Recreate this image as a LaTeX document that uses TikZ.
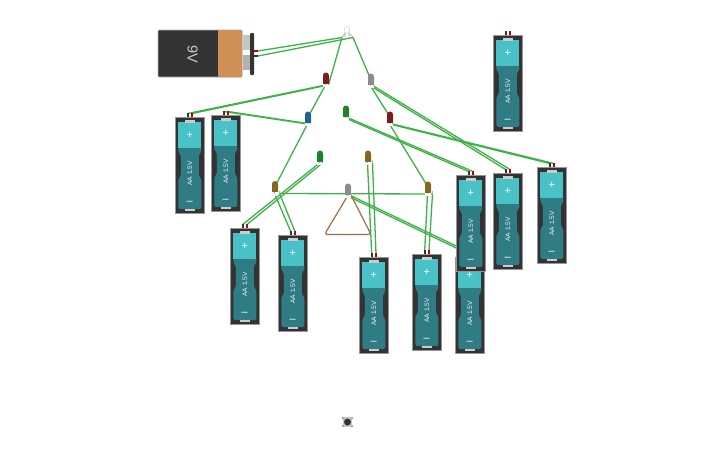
\documentclass[tikz,border=0pt]{standalone}
\usepackage{fontspec}
\setmainfont{Liberation Sans}
\usepackage{xcolor}
\definecolor{framedark}{RGB}{51, 51, 51}
\definecolor{frameedge}{RGB}{150, 150, 150}
\definecolor{celllight}{RGB}{72, 193, 199}
\definecolor{celldark}{RGB}{47, 124, 133}
\definecolor{wiregreen}{RGB}{62, 178, 72}
\definecolor{wirebrown}{RGB}{160, 110, 70}
\definecolor{tan}{RGB}{207, 144, 85}
\definecolor{ledred}{RGB}{125, 28, 32}
\definecolor{ledgray}{RGB}{140, 140, 140}
\definecolor{ledblue}{RGB}{30, 100, 140}
\definecolor{ledgreen}{RGB}{30, 130, 45}
\definecolor{ledolive}{RGB}{130, 105, 30}
\usetikzlibrary{
    backgrounds
}
\tikzset{
  wire/.style={wiregreen, line width=1.3pt},
  wirepair/.style={wire},
  label/.style={inner sep=0pt, text=white!92!celldark, font=\fontsize{6.6}{6.6}\selectfont},
  sign/.style={inner sep=0pt, text=white, font=\fontsize{11}{11}\selectfont},
  pics/battery/.style={code={
    \fill[framedark] (11.7,-4) rectangle (13.7,0);
    \fill[red!75!black] (15.7,-4) rectangle (18.3,0);
    \fill[framedark, draw=frameedge, line width=0.6pt] (0,0) rectangle (29,96);
    \fill[celldark, rounded corners=1.5pt] (3.3,30) -- (26.3,30) -- (26.3,35) -- (23.8,38) -- (23.8,59) -- (26.3,62)
      -- (26.3,92) -- (3.3,92) -- (3.3,62) -- (5.8,59) -- (5.8,38) -- (3.3,35) -- cycle;
    \fill[celllight] (3.3,5) rectangle (26.3,31);
    \fill[gray!40] (9.5,3) rectangle (19.5,5.5);
    \fill[gray!40] (9.5,92) rectangle (19.5,94);
    \node[sign] (-plus) at (14.8,18.5) {+};
    \node[label, rotate=90] (-type) at (15,56.5) {AA 1.5V};
    \node[sign] (-minus) at (14.8,85.5) {–};
    \coordinate (-neg) at (12.7,-3.5);
    \coordinate (-pos) at (17,-3.5);
  }},
  pics/led/.style 2 args={code={
    \draw[gray!60, line width=0.7pt] (-0.5,4) -- (-0.5,7) (-0.5+#2,4) -- (-0.5+#2,7);
    \fill[#1, rounded corners=2.9pt] (-3,8) -- (-3,-5.5) -- (3,-5.5) -- (3,8) -- cycle;
    \fill[white] (-3.2,5.5) rectangle (3.2,9);
    \draw[gray!60, line width=0.7pt] (-0.5,5.5) -- (-0.5,7) (-0.5+#2,5.5) -- (-0.5+#2,7);
    \fill[#1] (-3.3,4.4) rectangle (3.3,5.6);
    \coordinate (-t) at (0,0);
    \coordinate (-a) at (-0.5,7);
    \coordinate (-c) at (-0.5+#2,7);
  }}
}
\begin{document}
\begin{tikzpicture}[x=1pt, y=-1pt]
\useasboundingbox (0,0) rectangle (725,453);

% 9V battery
\fill[framedark, draw=gray!60, line width=0.6pt, rounded corners=1pt] (158,30) rectangle (242,77);
\fill[tan, rounded corners=1pt] (218,30) rectangle (242,77);
\fill[gray!45] (243,35) rectangle (250,50);
\fill[gray!60] (243,55) rectangle (250,70);
\fill[framedark, rounded corners=1pt] (250,33) rectangle (254,75);
\fill[red!75!black] (254,50) rectangle (258,52);
\fill[black!80] (254,55) rectangle (258,57);
\node[inner sep=0pt, text=white!80!black, rotate=-90, font=\fontsize{14.5}{14.5}\selectfont] (nine) at (192.5,54.5) {9V};
\coordinate (ninepos) at (258,51);
\coordinate (nineneg) at (258,56);

% battery holders
\pic (bA) at (175,117) {battery};
\pic (bB) at (211,115) {battery};
\pic (bC) at (230,228) {battery};
\pic (bD) at (278,235) {battery};
\pic (bE) at (359,257) {battery};
\pic (bF) at (412,254) {battery};
\pic (bG) at (455,257) {battery};
\pic (bH) at (456,175) {battery};
\pic (bI) at (493,173) {battery};
\pic (bJ) at (537,167) {battery};
\pic (bK) at (493,35) {battery};

% lamp on top
\draw[gray!70, line width=0.6pt] (347,31) -- (342,37) (347,31) -- (353,37) (345,33) -- (345,37) (349,33) -- (349,37);
\fill[white, draw=gray!35, line width=0.5pt, rounded corners=2pt] (344.5,33) -- (344.5,26.5) -- (349.5,26.5) -- (349.5,33) -- cycle;
\coordinate (lampa) at (342,37.5);
\coordinate (lampc) at (353,37.5);

% leds
\pic (lA) at (326,78) {led={ledred}{3}};
\pic (lB) at (371,79) {led={ledgray}{3}};
\pic (lC) at (308,117) {led={ledblue}{3}};
\pic (lD) at (346,111) {led={ledgreen}{3}};
\pic (lE) at (390,117) {led={ledred}{3}};
\pic (lF) at (320,156) {led={ledgreen}{3}};
\pic (lG) at (368,156) {led={ledolive}{5}};
\pic (lH) at (275,186.5) {led={ledolive}{5}};
\pic (lI) at (428,187) {led={ledolive}{5}};
\pic (lJ) at (348,189) {led={ledgray}{4}};

% push button
\fill[gray!45] (343,417) rectangle (352,427);
\fill[gray!70] (342,417) rectangle (344,419) (351,417) rectangle (353,419)
  (342,425) rectangle (344,427) (351,425) rectangle (353,427);
\node[circle, fill=framedark, minimum size=7pt, inner sep=0pt] (button) at (347.5,422) {};

\begin{scope}[on background layer]
\draw[wire] (ninepos) -- (lampa);
\draw[wire] (nineneg) -- (lampc);
\draw[wire] (lampa) -- (lA-c);
\draw[wire] (lampc) -- (lB-c);
\draw[wire] (lA-a) -- (lC-t);
\draw[wire] (lC-a) -- (lH-t);
\draw[wire] (lB-a) -- (lE-t);
\draw[wire] (lE-a) -- (lI-t);
\draw[wire] (lH-c) -- (lI-c);

\draw[wirepair] (lA-a) -- (bA-neg);
\draw[wirepair] (lA-c) -- (bA-pos);
\draw[wirepair] (lC-a) -- (bB-neg);
\draw[wirepair] (lC-c) -- (bB-pos);
\draw[wirepair] (lF-a) -- (bC-neg);
\draw[wirepair] (lF-c) -- (bC-pos);
\draw[wirepair] (lH-a) -- (bD-neg);
\draw[wirepair] (lH-c) -- (bD-pos);
\draw[wirepair] (lG-a) -- (bE-neg);
\draw[wirepair] (lG-c) -- (bE-pos);
\draw[wirepair] (lI-a) -- (bF-neg);
\draw[wirepair] (lI-c) -- (bF-pos);
\draw[wirepair] (lJ-a) -- (bG-neg);
\draw[wirepair] (lJ-c) -- (bG-pos);
\draw[wirepair] (lD-a) -- (bH-neg);
\draw[wirepair] (lD-c) -- (bH-pos);
\draw[wirepair] (lB-a) -- (bI-neg);
\draw[wirepair] (lB-c) -- (bI-pos);
\draw[wirepair] (lE-a) -- (bJ-neg);
\draw[wirepair] (lE-c) -- (bJ-pos);

\draw[wirebrown, line width=1.2pt, rounded corners=3pt] (lJ-a) -- (324.5,234.5) -- (371,234.5) -- (lJ-c);
\end{scope}

\end{tikzpicture}
\end{document}
